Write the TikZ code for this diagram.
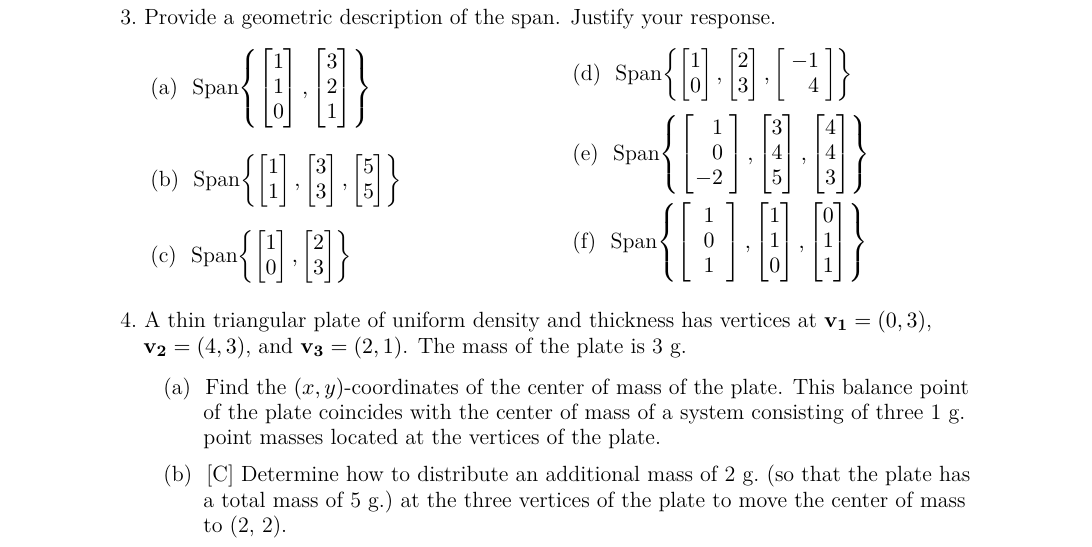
\documentclass[tikz,border=0pt]{standalone}
\usepackage{amsmath,mathtools}
\begin{document}
\begin{tikzpicture}[x=0.5pt,y=-0.5pt,
  txt/.style={anchor=base west,inner sep=0pt,font=\fontsize{11pt}{12.5pt}\selectfont}]
\useasboundingbox (0,0) rectangle (1092,546);
\node[txt] (t3) at (120,25) {3.\ Provide a geometric description of the span. Justify your response.};
\node[txt] (a) at (150,94) {(a)\ \ Span$\displaystyle\left\{\begin{bmatrix}1\\1\\0\end{bmatrix},\begin{bmatrix}3\\2\\1\end{bmatrix}\right\}$};
\node[txt] (b) at (150,186) {(b)\ \ Span$\displaystyle\left\{\begin{bmatrix}1\\1\end{bmatrix},\begin{bmatrix}3\\3\end{bmatrix},\begin{bmatrix}5\\5\end{bmatrix}\right\}$};
\node[txt] (c) at (150,262) {(c)\ \ Span$\displaystyle\left\{\begin{bmatrix}1\\0\end{bmatrix},\begin{bmatrix}2\\3\end{bmatrix}\right\}$};
\node[txt] (d) at (572,80) {(d)\ \ Span$\displaystyle\left\{\begin{bmatrix}1\\0\end{bmatrix},\begin{bmatrix}2\\3\end{bmatrix},\begin{bmatrix*}[r]\;-1\;\\4\;\end{bmatrix*}\right\}$};
\node[txt] (e) at (572,160) {(e)\ \ Span$\displaystyle\left\{\begin{bmatrix*}[r]\;\;\;1\;\\0\;\\-2\;\end{bmatrix*},\begin{bmatrix}3\\4\\5\end{bmatrix},\begin{bmatrix}4\\4\\3\end{bmatrix}\right\}$};
\node[txt] (f) at (572,248) {(f)\ \ Span$\displaystyle\left\{\begin{bmatrix}\;\;1\;\;\\0\\1\end{bmatrix},\begin{bmatrix}1\\1\\0\end{bmatrix},\begin{bmatrix}0\\1\\1\end{bmatrix}\right\}$};
\node[txt] (p4a) at (120,327) {4.\ A thin triangular plate of uniform density and thickness has vertices at $\mathbf{v_1}=(0,3)$,};
\node[txt] (p4b) at (143,353) {$\mathbf{v_2}=(4,3)$, and $\mathbf{v_3}=(2,1)$. The mass of the plate is 3 g.};
\node[txt] (qa1) at (163,394) {(a)\ \ Find the $(x,y)$-coordinates of the center of mass of the plate. This balance point};
\node[txt] (qa2) at (203,419) {of the plate coincides with the center of mass of a system consisting of three 1 g.};
\node[txt] (qa3) at (203,444) {point masses located at the vertices of the plate.};
\node[txt] (qb1) at (163,481) {(b)\ \ [C] Determine how to distribute an additional mass of 2 g.\ (so that the plate has};
\node[txt] (qb2) at (203,507) {a total mass of 5 g.)\ at the three vertices of the plate to move the center of mass};
\node[txt] (qb3) at (203,532) {to (2, 2).};
\end{tikzpicture}
\end{document}
